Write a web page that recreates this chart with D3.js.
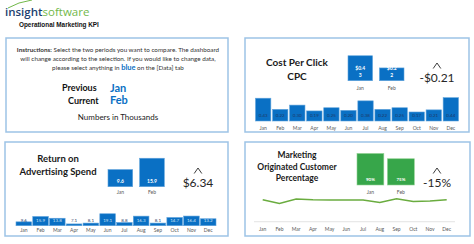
<!DOCTYPE html>
<meta charset="utf-8">
<style>
  body { margin: 0; background: #fff; }
  svg { font-family: Lato, "Open Sans", sans-serif; }
  .panel { fill: #fff; stroke: #9dc3e6; stroke-width: 1.5px; }
  .mlabel { font-size: 5px; fill: #595959; text-anchor: middle; }
  .title { font-weight: bold; fill: #1a1a1a; text-anchor: middle; }
  .delta { font-size: 12px; fill: #262626; text-anchor: middle; }
</style>
<svg width="474" height="244"></svg>
<script src="https://cdn.jsdelivr.net/npm/d3@7"></script>
<script>
  var months = ["Jan", "Feb", "Mar", "Apr", "May", "Jun", "Jul", "Aug", "Sep", "Oct", "Nov", "Dec"];
  var cpc = [0.43, 0.22, 0.30, 0.19, 0.25, 0.20, 0.38, 0.22, 0.25, 0.17, 0.21, 0.44];
  var roas = [9.56, 15.9, 13.8, 7.1, 8.1, 19.1, 8.8, 16.3, 8.1, 14.7, 16.4, 13.2];
  var mocp = [0.90, 0.75, 0.93, 0.90, 0.89, 0.89, 0.89, 0.79, 0.94, 0.83, 0.85, 0.90];
  var previous = "Jan", current = "Feb";

  var blue = "#0a70c4", green = "#37a64a";
  var svg = d3.select("svg");
  var pi = months.indexOf(previous), ci = months.indexOf(current);
  var pair = [previous, current];

  // header
  var logo = svg.append("text").attr("x", 5).attr("y", 16).style("font-family", "'Open Sans'").style("font-size", "11.5px");
  logo.append("tspan").attr("fill", "#1d3f70").style("font-weight", 600).text("insight");
  logo.append("tspan").attr("fill", "#72b84a").text("software");
  svg.append("path").attr("d", "M8,8 Q18,2 32,0").attr("fill", "none").attr("stroke", "#72b84a").attr("stroke-width", 1);
  svg.append("text").attr("x", 19).attr("y", 26.5).style("font-family", "'Liberation Sans'")
    .style("font-size", "6.4px").style("font-weight", "bold").attr("fill", "#111").text("Operational Marketing KPI");

  // panels
  [[6, 38, 222, 94], [245, 38, 224, 94], [5, 142, 223, 94], [245, 142, 225, 94]].forEach(function(p) {
    svg.append("rect").attr("class", "panel").attr("x", p[0]).attr("y", p[1]).attr("width", p[2]).attr("height", p[3]);
  });

  // instructions panel
  var ins = svg.append("g").style("font-size", "6.3px").attr("fill", "#333").attr("text-anchor", "middle");
  var l1 = ins.append("text").attr("x", 118).attr("y", 52);
  l1.append("tspan").style("font-weight", "bold").text("Instructions:");
  l1.append("tspan").text(" Select the two periods you want to compare. The dashboard");
  ins.append("text").attr("x", 118).attr("y", 61).text("will change according to the selection. If you would like to change data,");
  var l3 = ins.append("text").attr("x", 118).attr("y", 70);
  l3.append("tspan").text("please select anything in ");
  l3.append("tspan").style("font-weight", "bold").style("font-size", "7.5px").attr("fill", blue).text("blue");
  l3.append("tspan").text(" on the [Data] tab");
  svg.append("text").attr("x", 62).attr("y", 91).style("font-size", "9px").style("font-weight", "bold").attr("fill", "#111").text("Previous");
  svg.append("text").attr("x", 68).attr("y", 103.5).style("font-size", "9px").style("font-weight", "bold").attr("fill", "#111").text("Current");
  svg.append("text").attr("x", 110).attr("y", 91.5).style("font-size", "11px").style("font-weight", "bold").attr("fill", blue).text(previous);
  svg.append("text").attr("x", 110).attr("y", 104).style("font-size", "11px").style("font-weight", "bold").attr("fill", blue).text(current);
  svg.append("text").attr("x", 118).attr("y", 120).style("font-size", "8px").attr("fill", "#222").attr("text-anchor", "middle").text("Numbers in Thousands");

  function title(lines, cx, y0, dy, size) {
    var t = svg.append("text").attr("class", "title").style("font-size", size + "px");
    lines.forEach(function(s, i) {
      t.append("tspan").attr("x", cx).attr("y", y0 + i * dy).text(s);
    });
  }
  // change value with a thin caret above it
  function delta(txt, cx, y) {
    svg.append("path").attr("d", "M" + (cx - 3.8) + "," + (y - 13.5) + "L" + cx + "," + (y - 19) + "L" + (cx + 3.8) + "," + (y - 13.5))
      .attr("fill", "none").attr("stroke", "#262626").attr("stroke-width", 0.9);
    svg.append("text").attr("class", "delta").attr("x", cx).attr("y", y).text(txt);
  }
  function monthAxis(x, y) {
    svg.append("g").selectAll("text").data(months).enter().append("text")
      .attr("class", "mlabel").attr("x", function(d) { return x(d) + (x.bandwidth ? x.bandwidth() / 2 : 0); })
      .attr("y", y).text(function(d) { return d; });
  }

  // ---- CPC ----
  title(["Cost Per Click", "CPC"], 297, 66, 14, 10);
  var fmtD = d3.format(".2f");
  var dc = cpc[ci] - cpc[pi];
  delta((dc < 0 ? "-" : "") + "$" + fmtD(Math.abs(dc)), 437, 82);

  var xc = d3.scaleBand().domain(pair).range([348, 404]).paddingInner(0.22);
  var yc = d3.scaleLinear().domain([0, 0.5]).range([80.7, 51.7]);
  var gc = svg.append("g");
  gc.selectAll("rect").data(pair).enter().append("rect")
    .attr("x", function(d) { return xc(d); }).attr("width", xc.bandwidth())
    .attr("y", function(d) { return yc(cpc[months.indexOf(d)]); })
    .attr("height", function(d) { return yc(0) - yc(cpc[months.indexOf(d)]); })
    .attr("fill", blue).attr("stroke", "#5fa3dc").attr("stroke-width", 0.6);
  gc.selectAll("text.v").data(pair).enter().append("text").attr("class", "v")
    .attr("text-anchor", "middle").style("font-size", "5px").style("font-weight", "bold").attr("fill", "#fff")
    .each(function(d) {
      var s = "$" + fmtD(cpc[months.indexOf(d)]);
      var t = d3.select(this);
      t.append("tspan").attr("x", xc(d) + xc.bandwidth() / 2).attr("y", yc(0) - 11).text(s.slice(0, 4));
      t.append("tspan").attr("x", xc(d) + xc.bandwidth() / 2).attr("y", yc(0) - 4).text(s.slice(4));
    });
  gc.selectAll("text.m").data(pair).enter().append("text").attr("class", "mlabel m")
    .attr("x", function(d) { return xc(d) + xc.bandwidth() / 2; }).attr("y", 89.5).text(function(d) { return d; });

  var xcs = d3.scaleBand().domain(months).range([255.5, 458.5]).paddingInner(0.1);
  var ycs = d3.scaleLinear().domain([0, 0.5]).range([121, 94.5]);
  var gcs = svg.append("g");
  gcs.selectAll("rect").data(cpc).enter().append("rect")
    .attr("x", function(d, i) { return xcs(months[i]); }).attr("width", xcs.bandwidth())
    .attr("y", function(d) { return ycs(d); }).attr("height", function(d) { return ycs(0) - ycs(d); })
    .attr("fill", blue).attr("stroke", "#5fa3dc").attr("stroke-width", 0.6);
  gcs.selectAll("text").data(cpc).enter().append("text")
    .attr("x", function(d, i) { return xcs(months[i]) + xcs.bandwidth() / 2; }).attr("y", 117)
    .attr("text-anchor", "middle").style("font-size", "4.5px").attr("fill", "#1f3864").text(function(d) { return fmtD(d); });
  monthAxis(xcs, 129.5);

  // ---- ROAS ----
  title(["Return on", "Advertising Spend"], 58, 162, 13, 9.5);
  var dr = roas[ci] - roas[pi];
  delta((dr < 0 ? "-" : "") + "$" + fmtD(Math.abs(dr)), 198, 187);
  var fmt1 = d3.format(".1f");

  var xr = d3.scaleBand().domain(pair).range([108, 164.3]).paddingInner(0.22);
  var yr = d3.scaleLinear().domain([0, 20]).range([186.7, 150.9]);
  var gr = svg.append("g");
  gr.selectAll("rect").data(pair).enter().append("rect")
    .attr("x", function(d) { return xr(d); }).attr("width", xr.bandwidth())
    .attr("y", function(d) { return yr(roas[months.indexOf(d)]); })
    .attr("height", function(d) { return yr(0) - yr(roas[months.indexOf(d)]); })
    .attr("fill", blue).attr("stroke", "#5fa3dc").attr("stroke-width", 0.6);
  gr.selectAll("text.v").data(pair).enter().append("text").attr("class", "v")
    .attr("x", function(d) { return xr(d) + xr.bandwidth() / 2; }).attr("y", 182.5)
    .attr("text-anchor", "middle").style("font-size", "5px").style("font-weight", "bold").attr("fill", "#fff")
    .text(function(d) { return fmt1(roas[months.indexOf(d)]); });
  gr.selectAll("text.m").data(pair).enter().append("text").attr("class", "mlabel m")
    .attr("x", function(d) { return xr(d) + xr.bandwidth() / 2; }).attr("y", 194).text(function(d) { return d; });

  var xrs = d3.scaleBand().domain(months).range([16, 216]).paddingInner(0.07);
  var yrs = d3.scaleLinear().domain([5, 20]).range([225.7, 213]);
  var grs = svg.append("g");
  grs.selectAll("rect").data(roas).enter().append("rect")
    .attr("x", function(d, i) { return xrs(months[i]); }).attr("width", xrs.bandwidth())
    .attr("y", function(d) { return yrs(d); }).attr("height", function(d) { return yrs(5) - yrs(d); })
    .attr("fill", blue).attr("stroke", "#5fa3dc").attr("stroke-width", 0.6);
  grs.selectAll("text").data(roas).enter().append("text")
    .attr("x", function(d, i) { return xrs(months[i]) + xrs.bandwidth() / 2; }).attr("y", 221.5)
    .attr("text-anchor", "middle").style("font-size", "4.5px")
    .attr("fill", function(d) { return yrs(5) - yrs(d) > 6 ? "#cfe3f5" : "#1f3864"; })
    .text(function(d) { return fmt1(d); });
  monthAxis(xrs, 232);

  // ---- Marketing originated ----
  title(["Marketing", "Originated Customer", "Percentage"], 297, 158, 11.5, 8.5);
  var dm = mocp[ci] - mocp[pi];
  delta(d3.format(".0%")(dm).replace("−", "-"), 437, 187);

  var xm = d3.scaleBand().domain(pair).range([357, 414.3]).paddingInner(0.12);
  var ym = d3.scaleLinear().domain([0, 1]).range([185, 150]);
  var gm = svg.append("g");
  gm.selectAll("rect").data(pair).enter().append("rect")
    .attr("x", function(d) { return xm(d); }).attr("width", xm.bandwidth())
    .attr("y", function(d) { return ym(mocp[months.indexOf(d)]); })
    .attr("height", function(d) { return ym(0) - ym(mocp[months.indexOf(d)]); })
    .attr("fill", green).attr("stroke", "#8fd18f").attr("stroke-width", 0.6);
  gm.selectAll("text.v").data(pair).enter().append("text").attr("class", "v")
    .attr("x", function(d) { return xm(d) + xm.bandwidth() / 2; }).attr("y", 180.5)
    .attr("text-anchor", "middle").style("font-size", "4.5px").style("font-weight", "bold").attr("fill", "#fff")
    .text(function(d) { return d3.format(".0%")(mocp[months.indexOf(d)]); });
  gm.selectAll("text.m").data(pair).enter().append("text").attr("class", "mlabel m")
    .attr("x", function(d) { return xm(d) + xm.bandwidth() / 2; }).attr("y", 193.5).text(function(d) { return d; });

  var xl = d3.scalePoint().domain(months).range([262.7, 446.7]);
  var yl = d3.scaleLinear().domain([0, 1]).range([222, 197.3]);
  svg.append("line").attr("x1", 254).attr("x2", 455).attr("y1", yl(0) - 0.3).attr("y2", yl(0) - 0.3)
    .attr("stroke", "#d9d9d9").attr("stroke-width", 0.7);
  svg.append("path").datum(mocp)
    .attr("d", d3.line().x(function(d, i) { return xl(months[i]); }).y(function(d) { return yl(d); }))
    .attr("fill", "none").attr("stroke", "#6aac3f").attr("stroke-width", 1.6);
  monthAxis(xl, 231);
</script>
